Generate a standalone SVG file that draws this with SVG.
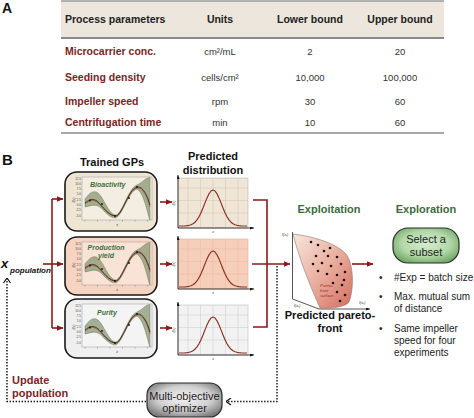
<svg xmlns="http://www.w3.org/2000/svg" xmlns:xlink="http://www.w3.org/1999/xlink" width="474" height="418" viewBox="0 0 474 418">
<style>
text{font-family:"Liberation Sans",Arial,sans-serif}
.hdr{font-size:10.5px;font-weight:bold;fill:#222}
.rowl{font-size:10.5px;font-weight:bold;fill:#7a2525}
.cell{font-size:9.5px;fill:#333;text-anchor:middle}
.title{font-size:11px;font-weight:bold;fill:#111;text-anchor:middle}
.gtitle{font-size:11px;font-weight:bold;fill:#3d6b3d;text-anchor:middle}
.gplab{font-size:7px;font-weight:bold;font-style:italic;fill:#3c6e3c}
.tick{font-size:3px;fill:#444;text-anchor:end}
.tiny{font-size:3.5px;font-style:italic;fill:#333}
.bul{font-size:10px;fill:#222}
.red{stroke:#8b1a1a;stroke-width:1.6;fill:none}
.dot{stroke:#111;stroke-width:1.4;fill:none;stroke-dasharray:1.4 1.6}
.gpbox{stroke:#1a1a1a;stroke-width:1.6}
.grid{stroke-width:.6}
</style>
<defs>
<marker id="ra" markerUnits="userSpaceOnUse" markerWidth="7" markerHeight="6" viewBox="0 0 7 6" refX="6.5" refY="3" orient="auto"><path d="M0,0 L7,3 L0,6 z" fill="#8b1a1a"/></marker>
<marker id="ba" markerUnits="userSpaceOnUse" markerWidth="4" markerHeight="3" viewBox="0 0 4 3" refX="4" refY="1.5" orient="auto"><path d="M0,0 L4,1.5 L0,3 z" fill="#111"/></marker>
<marker id="ca" markerUnits="userSpaceOnUse" markerWidth="6" markerHeight="8" viewBox="0 0 6 8" refX="5.5" refY="4" orient="auto"><path d="M0.5,0.5 L5.5,4 L0.5,7.5" fill="none" stroke="#111" stroke-width="1.2"/></marker>
<radialGradient id="gg" cx="50%" cy="45%" r="60%"><stop offset="0" stop-color="#d6edcf"/><stop offset=".6" stop-color="#b3d8a8"/><stop offset="1" stop-color="#6fa866"/></radialGradient>
<radialGradient id="gr" cx="50%" cy="45%" r="60%"><stop offset="0" stop-color="#f3f3f3"/><stop offset=".6" stop-color="#cfcfcf"/><stop offset="1" stop-color="#7d7d7d"/></radialGradient>
<linearGradient id="pg" x1="0" y1="0" x2="1" y2="1"><stop offset="0" stop-color="#f8e6de"/><stop offset=".5" stop-color="#eab0a0"/><stop offset="1" stop-color="#d46d5e"/></linearGradient>
<g id="gpplot">
<rect x="0" y="0" width="70" height="43" fill="#ffffff" fill-opacity=".35" stroke="#9a9a9a" stroke-width=".5"/>
<path d="M3,22 C8,15 12,13 16,16 C22,21 26,36 33,38 C40,39 46,11 55,8 C60,6 63,1 68,0.5 L68,43 C65,35 62,16 55,12 C46,14 40,41 33,41 C25,40 21,31 16,29 C12,27 8,29 3,30 Z" fill="#7a8c62" fill-opacity=".65" stroke="#56643f" stroke-width=".4"/>
<path d="M3,27 C8,23 10,23 13,24 C18,25 24,37 33,39 C40,40 46,13 55,11 C61,10 65,19 68,30" fill="none" stroke="#b0402e" stroke-width=".7"/>
<path d="M3,26 C8,22 10,22 13,23 C18,24 24,38 33,39 C40,40 46,12 55,10 C61,9 65,18 68,28" fill="none" stroke="#3a3328" stroke-width=".9"/>
<g fill="#111"><circle cx="8" cy="23.5" r=".9"/><circle cx="20" cy="27" r=".9"/><circle cx="33" cy="39" r=".9"/><circle cx="47" cy="21" r=".9"/><circle cx="55" cy="10" r=".9"/></g>
<g class="tick"><text x="-1" y="2.5">12.5</text><text x="-1" y="7.8">10.0</text><text x="-1" y="13.1">7.5</text><text x="-1" y="18.4">5.0</text><text x="-1" y="23.7">2.5</text><text x="-1" y="29">0.0</text><text x="-1" y="34.3">-2.5</text><text x="-1" y="39.6">-5.0</text></g>
<text class="tiny" transform="translate(-7.5,23) rotate(-90)" text-anchor="middle">f(x)</text>
<g stroke="#555" stroke-width=".4"><path d="M3,43v1.5M15.5,43v1.5M28,43v1.5M40.5,43v1.5M53,43v1.5M65.5,43v1.5"/></g>
<text class="tiny" x="35" y="49" text-anchor="middle">x</text>
</g>
<path id="bell" d="M-34,0 L-30,0 -28,-0.1 -26,-0.3 -24,-0.7 -22,-1.3 -20,-2.3 -18,-3.8 -16,-6.1 -14,-9.3 -12,-13.3 -10,-18 -8,-23.1 -6,-28.1 -4,-32.2 -2,-35 0,-36 2,-35 4,-32.2 6,-28.1 8,-23.1 10,-18 12,-13.3 14,-9.3 16,-6.1 18,-3.8 20,-2.3 22,-1.3 24,-0.7 26,-0.3 28,-0.1 30,0 34,0" fill="none" stroke="#8b3326" stroke-width="1.2" stroke-linejoin="round"/>
<path id="gridp" d="M188,0v50M200.5,0v50M213,0v50M225.5,0v50M238,0v50M178,10h70M178,22.5h70M178,35h70"/>
</defs>

<g id="panelA">
<text x="2" y="13" font-size="14" font-weight="bold" fill="#111">A</text>
<rect x="61" y="1" width="383" height="36" fill="#ece6dc"/>
<line x1="61" y1="1" x2="444" y2="1" stroke="#9a9a9a" stroke-width="1.5"/>
<line x1="61" y1="38" x2="444" y2="38" stroke="#8a8a8a" stroke-width="2"/>
<line x1="61" y1="133" x2="444" y2="133" stroke="#8a8a8a" stroke-width="1.5"/>
<text class="hdr" x="65" y="23">Process parameters</text>
<text class="hdr" x="220" y="23" text-anchor="middle">Units</text>
<text class="hdr" x="310" y="23" text-anchor="middle">Lower bound</text>
<text class="hdr" x="400" y="23" text-anchor="middle">Upper bound</text>
<text class="rowl" x="65" y="55">Microcarrier conc.</text>
<text class="rowl" x="65" y="81">Seeding density</text>
<text class="rowl" x="65" y="105">Impeller speed</text>
<text class="rowl" x="65" y="126">Centrifugation time</text>
<text class="cell" x="220" y="55">cm²/mL</text>
<text class="cell" x="220" y="81">cells/cm²</text>
<text class="cell" x="220" y="105">rpm</text>
<text class="cell" x="220" y="126">min</text>
<text class="cell" x="310" y="55">2</text>
<text class="cell" x="310" y="81">10,000</text>
<text class="cell" x="310" y="105">30</text>
<text class="cell" x="310" y="126">10</text>
<text class="cell" x="400" y="55">20</text>
<text class="cell" x="400" y="81">100,000</text>
<text class="cell" x="400" y="105">60</text>
<text class="cell" x="400" y="126">60</text>
</g>

<g id="labelsB">
<text x="2" y="165" font-size="15" font-weight="bold" fill="#111">B</text>
<text class="title" x="112" y="166">Trained GPs</text>
<text class="title" x="213" y="160">Predicted</text>
<text class="title" x="213" y="174">distribution</text>
<text class="gtitle" x="329" y="213">Exploitation</text>
<text class="gtitle" x="426" y="213">Exploration</text>
<text class="title" x="330" y="319">Predicted pareto-</text>
<text class="title" x="330" y="332">front</text>
</g>

<g id="xpop">
<text x="1" y="268" font-size="13" font-weight="bold" font-style="italic" fill="#111">x</text>
<text x="10" y="272.5" font-size="8" font-weight="bold" font-style="italic" fill="#111">population</text>
</g>

<g id="gp1">
<rect class="gpbox" x="65" y="172" width="92" height="59" rx="12" fill="#efe5d3"/>
<use xlink:href="#gpplot" transform="translate(82,177)"/>
<text class="gplab" x="90" y="187">Bioactivity</text>
</g>
<g id="gp2">
<rect class="gpbox" x="65" y="237" width="92" height="58" rx="12" fill="#f6d4c1"/>
<use xlink:href="#gpplot" transform="translate(82,242)"/>
<text class="gplab" x="106" y="250" text-anchor="middle">Production</text>
<text class="gplab" x="106" y="257.5" text-anchor="middle">yield</text>
</g>
<g id="gp3">
<rect class="gpbox" x="65" y="299" width="92" height="59" rx="12" fill="#efefef"/>
<use xlink:href="#gpplot" transform="translate(82,304)"/>
<text class="gplab" x="97" y="315">Purity</text>
</g>

<g id="dist1">
<rect x="178" y="178" width="70" height="50" fill="#efe6d8" stroke="#b5ab9c" stroke-width=".5"/>
<use xlink:href="#gridp" transform="translate(0,178)" class="grid" stroke="#d6c9b4"/>
<use xlink:href="#bell" transform="translate(213,226)"/>
<path d="M178,228 V175" stroke="#111" stroke-width=".8" marker-end="url(#ba)"/>
<path d="M178,228 H254" stroke="#111" stroke-width=".8" marker-end="url(#ba)"/>
<text class="tiny" transform="translate(175,203) rotate(-90)" text-anchor="middle">f(x)</text>
<text class="tiny" x="213" y="233" text-anchor="middle">x</text>
</g>
<g id="dist2">
<rect x="178" y="239" width="70" height="50" fill="#f5cfb9" stroke="#d2a994" stroke-width=".5"/>
<use xlink:href="#gridp" transform="translate(0,239)" class="grid" stroke="#ecbba2"/>
<use xlink:href="#bell" transform="translate(213,287)"/>
<path d="M178,289 V236" stroke="#111" stroke-width=".8" marker-end="url(#ba)"/>
<path d="M178,289 H254" stroke="#111" stroke-width=".8" marker-end="url(#ba)"/>
<text class="tiny" transform="translate(175,264) rotate(-90)" text-anchor="middle">f(x)</text>
<text class="tiny" x="213" y="294" text-anchor="middle">x</text>
</g>
<g id="dist3">
<rect x="178" y="305" width="70" height="50" fill="#f2f2f2" stroke="#b5b5b5" stroke-width=".5"/>
<use xlink:href="#gridp" transform="translate(0,305)" class="grid" stroke="#d0d0d0"/>
<use xlink:href="#bell" transform="translate(213,353)"/>
<path d="M178,355 V302" stroke="#111" stroke-width=".8" marker-end="url(#ba)"/>
<path d="M178,355 H254" stroke="#111" stroke-width=".8" marker-end="url(#ba)"/>
<text class="tiny" transform="translate(175,330) rotate(-90)" text-anchor="middle">f(x)</text>
<text class="tiny" x="213" y="360" text-anchor="middle">x</text>
</g>

<g id="pareto">
<path d="M292.5,299 L319,309" stroke="#555" stroke-width="1"/>
<path d="M292.5,299 V232" stroke="#555" stroke-width="1"/>
<path d="M319,309 H370" stroke="#555" stroke-width="1" marker-end="url(#ba)"/>
<path d="M293,234 C310,236 335,242 346,254 C354,264 354,290 349,302 C346,307 330,309 320,308 C312,290 300,262 293,234 Z" fill="url(#pg)" stroke="#8a7a74" stroke-width=".6"/>
<g fill="#151515">
<circle cx="311" cy="242" r="1.3"/><circle cx="318" cy="245" r="1.3"/><circle cx="330" cy="248" r="1.3"/><circle cx="324" cy="251" r="1.3"/>
<circle cx="316" cy="256" r="1.3"/><circle cx="328" cy="256" r="1.3"/><circle cx="337" cy="257" r="1.3"/><circle cx="313" cy="264" r="1.3"/>
<circle cx="322" cy="263" r="1.3"/><circle cx="331" cy="266" r="1.3"/><circle cx="341" cy="264" r="1.3"/><circle cx="318" cy="271" r="1.3"/>
<circle cx="327" cy="274" r="1.3"/><circle cx="337" cy="275" r="1.3"/><circle cx="345" cy="272" r="1.3"/><circle cx="333" cy="283" r="1.3"/>
<circle cx="342" cy="285" r="1.3"/><circle cx="344" cy="280" r="1.3"/><circle cx="337" cy="292" r="1.3"/><circle cx="345" cy="295" r="1.3"/>
<circle cx="340" cy="301" r="1.3"/>
</g>
<g font-size="4" font-style="italic" fill="#9a2a2a"><text x="320" y="287">Pareto-</text><text x="320" y="292">front</text><text x="320" y="297">surface</text></g>
<text class="tiny" x="282" y="236">f(x₁)</text>
<text class="tiny" x="294" y="307">f(x₂)</text>
<text class="tiny" x="359" y="304">f(x₃)</text>
</g>

<g id="select">
<rect x="393" y="228" width="66" height="35" rx="15" fill="url(#gg)" stroke="#2a2a2a" stroke-width="1.2"/>
<text x="426" y="243" font-size="11" fill="#222" text-anchor="middle">Select a</text>
<text x="426" y="256" font-size="11" fill="#222" text-anchor="middle">subset</text>
</g>

<g id="bullets" class="bul">
<text x="379" y="281">•</text><text x="394" y="281">#Exp = batch size</text>
<text x="379" y="300">•</text><text x="394" y="300">Max. mutual sum</text><text x="394" y="312">of distance</text>
<text x="379" y="332">•</text><text x="394" y="332">Same impeller</text><text x="394" y="344">speed for four</text><text x="394" y="356">experiments</text>
</g>

<g id="optimizer">
<rect x="147" y="383" width="75" height="34" rx="12" fill="url(#gr)" stroke="#2a2a2a" stroke-width="1.2"/>
<text x="184.5" y="400" font-size="11" fill="#222" text-anchor="middle">Multi-objective</text>
<text x="184.5" y="412" font-size="11" fill="#222" text-anchor="middle">optimizer</text>
</g>

<g id="update">
<text x="12" y="384" font-size="11" font-weight="bold" fill="#7a2525">Update</text>
<text x="12" y="397" font-size="11" font-weight="bold" fill="#7a2525">population</text>
</g>

<g id="connectors">
<path class="red" d="M43,264 H63" marker-end="url(#ra)"/>
<path class="red" d="M52,199 V328"/>
<path class="red" d="M52,199 H63" marker-end="url(#ra)"/>
<path class="red" d="M52,328 H63" marker-end="url(#ra)"/>
<path class="red" d="M160,202 H172" marker-end="url(#ra)"/>
<path class="red" d="M160,264 H172" marker-end="url(#ra)"/>
<path class="red" d="M160,328 H172" marker-end="url(#ra)"/>
<path class="red" d="M253,200 H267 V327 H253"/>
<path class="red" d="M252,264 H290" marker-end="url(#ra)"/>
<path class="red" d="M352,264 H373" marker-end="url(#ra)"/>
<path class="dot" d="M277,266 V401.5 H226" marker-end="url(#ca)"/>
<path class="dot" d="M146,401.5 H7 V278" marker-end="url(#ca)"/>
</g>
</svg>
